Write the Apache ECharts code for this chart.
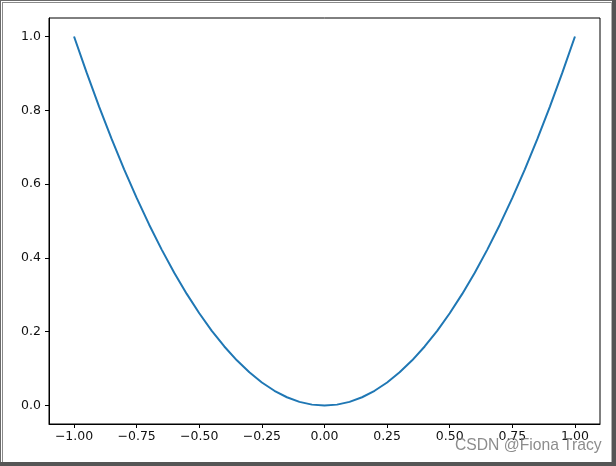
<!DOCTYPE html>
<html><head><meta charset="utf-8">
<script src="https://cdn.jsdelivr.net/npm/echarts@6/dist/echarts.min.js"></script>
<style>
html,body{margin:0;padding:0;background:#fff;}
#wrap{position:relative;width:616px;height:466px;overflow:hidden;}
#chart{position:absolute;left:0;top:0;width:616px;height:466px;}
.b{position:absolute;}
#wm{position:absolute;left:455px;top:436px;font-family:"Liberation Sans","DejaVu Sans",sans-serif;font-size:15.7px;color:rgba(120,120,120,0.85);white-space:nowrap;}
</style></head>
<body>
<div id="wrap">
<div id="chart"></div>
<div class="b" style="left:0;top:0;width:616px;height:1px;background:#6a6a6a"></div>
<div class="b" style="left:0;top:0;width:1px;height:466px;background:#6a6a6a"></div>
<div class="b" style="left:2px;top:2px;width:610px;height:1px;background:#8a8a8a"></div>
<div class="b" style="left:2px;top:2px;width:1px;height:460px;background:#8a8a8a"></div>
<div class="b" style="left:611px;top:2px;width:1px;height:460px;background:#b0b0b0"></div>
<div class="b" style="left:612px;top:0;width:4px;height:466px;background:#555"></div>
<div class="b" style="left:0;top:462px;width:616px;height:4px;background:#555"></div>
<div id="wm">CSDN @Fiona Tracy</div>
</div>
<script>
const xValues = [-1,-0.95,-0.9,-0.85,-0.8,-0.75,-0.7,-0.65,-0.6,-0.55,-0.5,-0.45,-0.4,-0.35,-0.3,-0.25,-0.2,-0.15,-0.1,-0.05,0,0.05,0.1,0.15,0.2,0.25,0.3,0.35,0.4,0.45,0.5,0.55,0.6,0.65,0.7,0.75,0.8,0.85,0.9,0.95,1];
const yValues = [1,0.9025,0.81,0.7225,0.64,0.5625,0.49,0.4225,0.36,0.3025,0.25,0.2025,0.16,0.1225,0.09,0.0625,0.04,0.0225,0.01,0.0025,0,0.0025,0.01,0.0225,0.04,0.0625,0.09,0.1225,0.16,0.2025,0.25,0.3025,0.36,0.4225,0.49,0.5625,0.64,0.7225,0.81,0.9025,1];
const xTicks = [-1,-0.75,-0.5,-0.25,0,0.25,0.5,0.75,1];
const yTicks = [0,0.2,0.4,0.6,0.8,1.0];

const fmt = (v,d) => { const s = Math.abs(v).toFixed(d); return (v < -1e-9 ? '\u2212' : '') + s; };
const chart = echarts.init(document.getElementById('chart'), null, {renderer:'canvas'});
const lab = {fontFamily:'DejaVu Sans', fontSize:12.5, color:'#111'};
chart.setOption({
  animation:false,
  grid:{left:49,top:18,right:16,bottom:42,show:true,borderColor:'#000',borderWidth:1,backgroundColor:'transparent'},
  xAxis:{type:'value',min:-1.1,max:1.1,
    axisLine:{show:true,onZero:false,lineStyle:{color:'#000',width:1}},
    axisTick:{show:true,length:4,customValues:xTicks,lineStyle:{color:'#000'}},
    axisLabel:Object.assign({margin:6,customValues:xTicks,formatter:v=>fmt(v,2)},lab),
    splitLine:{show:false}},
  yAxis:{type:'value',min:-0.05,max:1.05,
    axisLine:{show:true,onZero:false,lineStyle:{color:'#000',width:1}},
    axisTick:{show:true,length:4,customValues:yTicks,lineStyle:{color:'#000'}},
    axisLabel:Object.assign({margin:8,customValues:yTicks,formatter:v=>fmt(v,1)},lab),
    splitLine:{show:false}},
  series:[{type:'line',data:xValues.map((x,i)=>[x,yValues[i]]),showSymbol:false,smooth:false,
    lineStyle:{color:'#1f77b4',width:2},itemStyle:{color:'#1f77b4'}}]
});
</script>
</body></html>
